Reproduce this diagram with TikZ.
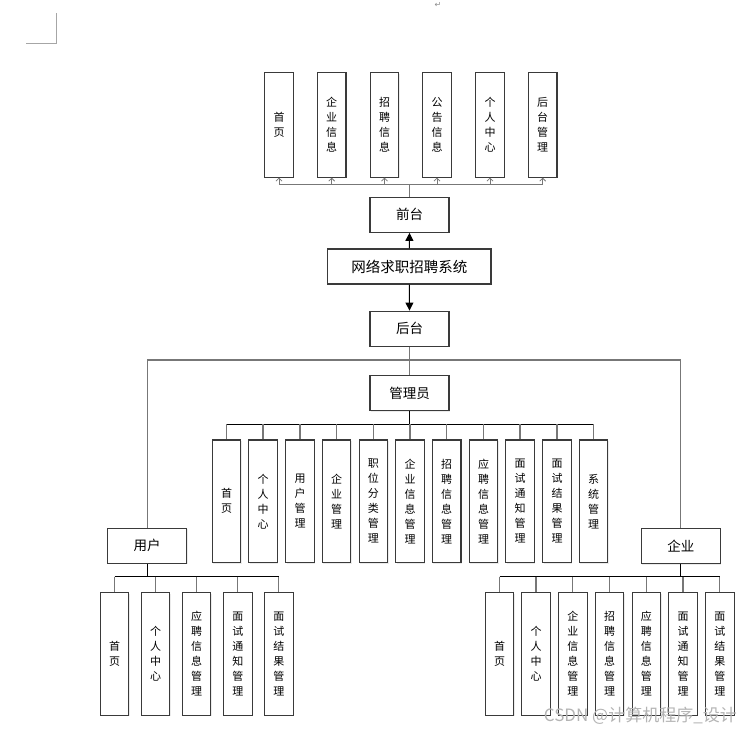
\documentclass[tikz,border=0pt]{standalone}
\usepackage{fontspec}
\newfontfamily\cjk{Noto Sans CJK SC}
\newfontfamily\dejavu{DejaVu Sans}
\usetikzlibrary{arrows.meta,shadows}
\definecolor{boxc}{HTML}{3A3A3A}
\definecolor{linec}{HTML}{777777}
\definecolor{wmc}{HTML}{B4B4B4}
\begin{document}
\begin{tikzpicture}[x=1pt,y=-1pt,
  box/.style={draw=boxc, line width=1.1pt, fill=white, inner sep=0pt,
    general shadow={fill=black!8, shadow xshift=1pt, shadow yshift=-1pt}},
  vbox/.style={box, minimum width=28.5pt, align=center, font=\cjk\fontsize{11}{15}\selectfont},
  topv/.style={vbox, minimum height=104.3pt},
  lowv/.style={vbox, minimum height=122.7pt},
  hbox/.style={box, minimum width=79pt, minimum height=35pt, font=\cjk\fontsize{13.5}{16}\selectfont},
  garrow/.style={draw=linec, line width=0.8pt, -{Straight Barb[length=3pt,width=6pt]}},
  barrow/.style={draw=black, line width=1pt, -{Triangle[length=8pt,width=8pt]}},
  bus/.style={draw=black, line width=1pt},
  gline/.style={draw=linec, line width=1.1pt},
  wm/.style={text=wmc, font=\cjk\fontsize{17}{17}\selectfont, inner sep=0pt}
]
\useasboundingbox (0,0) rectangle (754,736);
\fill[white] (0,0) rectangle (754,736);

% page marks
\draw[draw=black!35, line width=0.8pt] (26,43.3) -- (56.7,43.3) -- (56.7,13.3);
\node[text=black!45, font=\dejavu\fontsize{8}{8}\selectfont, inner sep=0pt] (ret) at (438,5) {↵};

% top-level boxes
\node[hbox] (qiantai) at (409.5,214.8) {前台};
\node[hbox, minimum width=163.3pt, font=\cjk\fontsize{14.5}{16}\selectfont] (sys) at (409.3,266.5) {网络求职招聘系统};
\node[hbox] (houtai) at (409.5,328.6) {后台};
\node[hbox] (admin) at (409.5,393.3) {管理员};
\node[hbox] (user) at (147.2,545.8) {用户};
\node[hbox] (comp) at (680.8,546) {企业};

% front-end boxes
\node[topv] (t1) at (279,124.9) {首\\页};
\node[topv] (t2) at (331.7,124.9) {企\\业\\信\\息};
\node[topv] (t3) at (384.5,124.9) {招\\聘\\信\\息};
\node[topv] (t4) at (437,124.9) {公\\告\\信\\息};
\node[topv] (t5) at (490,124.9) {个\\人\\中\\心};
\node[topv] (t6) at (542.7,124.9) {后\\台\\管\\理};

% admin boxes
\node[lowv] (a1) at (226.5,501.3) {首\\页};
\node[lowv] (a2) at (263,501.3) {个\\人\\中\\心};
\node[lowv] (a3) at (300,501.3) {用\\户\\管\\理};
\node[lowv] (a4) at (336.5,501.3) {企\\业\\管\\理};
\node[lowv] (a5) at (373.3,501.3) {职\\位\\分\\类\\管\\理};
\node[lowv] (a6) at (410,501.3) {企\\业\\信\\息\\管\\理};
\node[lowv] (a7) at (446.7,501.3) {招\\聘\\信\\息\\管\\理};
\node[lowv] (a8) at (483.5,501.3) {应\\聘\\信\\息\\管\\理};
\node[lowv] (a9) at (520,501.3) {面\\试\\通\\知\\管\\理};
\node[lowv] (a10) at (557,501.3) {面\\试\\结\\果\\管\\理};
\node[lowv] (a11) at (593.5,501.3) {系\\统\\管\\理};

% user boxes
\node[lowv] (u1) at (114.5,654) {首\\页};
\node[lowv] (u2) at (155.5,654) {个\\人\\中\\心};
\node[lowv] (u3) at (196.5,654) {应\\聘\\信\\息\\管\\理};
\node[lowv] (u4) at (237.8,654) {面\\试\\通\\知\\管\\理};
\node[lowv] (u5) at (278.8,654) {面\\试\\结\\果\\管\\理};

% company boxes
\node[lowv] (c1) at (499.5,654) {首\\页};
\node[lowv] (c2) at (536,654) {个\\人\\中\\心};
\node[lowv] (c3) at (572.8,654) {企\\业\\信\\息\\管\\理};
\node[lowv] (c4) at (609.5,654) {招\\聘\\信\\息\\管\\理};
\node[lowv] (c5) at (646.3,654) {应\\聘\\信\\息\\管\\理};
\node[lowv] (c6) at (683,654) {面\\试\\通\\知\\管\\理};
\node[lowv] (c7) at (719.8,654) {面\\试\\结\\果\\管\\理};

% bus coordinates
\coordinate (tb) at (409.5,184.3);
\coordinate (hb) at (409.5,360);
\coordinate (ab) at (409.5,424);
\coordinate (ub) at (147.2,576.7);
\coordinate (cb) at (680.8,576.7);

% front-end connectors
\draw[gline, line width=0.8pt] (tb -| t1) -- (tb -| t6);
\draw[gline, line width=0.8pt] (qiantai.north) -- (tb);
\foreach \i in {1,...,6} \draw[garrow] (t\i.south |- tb) -- (t\i.south);
\draw[barrow] (sys.north) -- (qiantai.south);
\draw[barrow] (sys.south) -- (houtai.north);

% back-end connectors
\draw[gline] (houtai.south) -- (admin.north);
\draw[gline] (user.north) -- (user.north |- hb) -- (comp.north |- hb) -- (comp.north);

% admin bus
\draw[bus] (admin.south) -- (ab);
\draw[bus] (ab -| a1) -- (ab -| a11);
\foreach \i in {1,...,11} \draw[gline] (a\i.north |- ab) -- (a\i.north);

% user bus
\draw[bus] (user.south) -- (ub);
\draw[bus] (ub -| u1) -- (ub -| u5);
\foreach \i in {1,...,5} \draw[gline] (u\i.north |- ub) -- (u\i.north);

% company bus
\draw[bus] (comp.south) -- (cb);
\draw[bus] (cb -| c1) -- (cb -| c7);
\foreach \i in {1,...,7} \draw[gline] (c\i.north |- cb) -- (c\i.north);

% watermark
\node[wm, anchor=east] (wmark) at (737,716) {CSDN @计算机程序\_设计};
\end{tikzpicture}
\end{document}
